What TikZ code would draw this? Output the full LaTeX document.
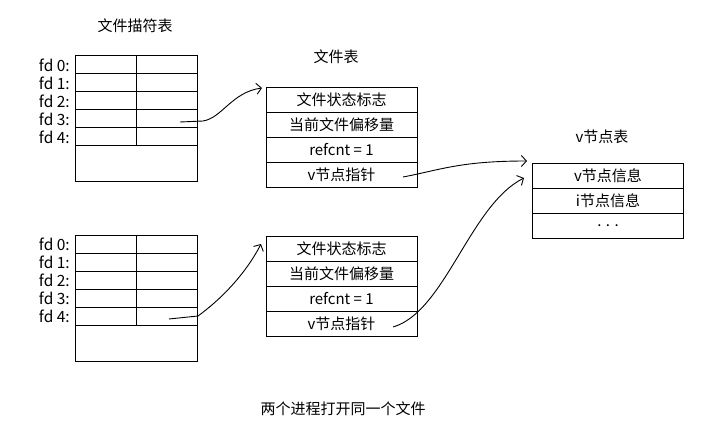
\documentclass[tikz,border=0pt]{standalone}
\usepackage{fontspec}
\setmainfont{Noto Sans CJK SC}
\usetikzlibrary{arrows.meta}
\begin{document}
\begin{tikzpicture}[x=1pt,y=-1pt,
  every node/.style={font=\fontsize{15}{17}\selectfont},
  cell/.style={draw,line width=1pt,inner sep=0pt,outer sep=0pt},
  fdrow/.style={cell,minimum width=122pt,minimum height=18pt},
  ftrow/.style={cell,minimum width=151pt,minimum height=25pt},
  fdlbl/.style={anchor=east,inner sep=0pt,font=\fontsize{15.5}{17}\selectfont},
  ptr/.style={line width=0.9pt,-{Straight Barb[length=5pt,width=11pt]}}]
\useasboundingbox (0,0) rectangle (711,446);
% titles
\node (t1) at (135,26) {文件描符表};
\node (t2) at (336,57) {文件表};
\node (t3) at (602,137) {v节点表};
\node (cap) at (343,409) {两个进程打开同一个文件};
% top fd table
\foreach \i/\y in {0/65,1/83,2/101,3/119,4/137}{
  \node[fdrow] (a\i) at (136,\y) {};
  \node[fdlbl] (la\i) at (70,\y) {fd \i:};
}
\node[cell,minimum width=122pt,minimum height=36pt] (ab) at (136,164) {};
\draw[line width=1pt] (a0.north) -- (a4.south);
% bottom fd table
\foreach \i/\y in {0/244.5,1/262.5,2/280.5,3/298.5,4/316.5}{
  \node[fdrow] (b\i) at (136,\y) {};
  \node[fdlbl] (lb\i) at (70,\y) {fd \i:};
}
\node[cell,minimum width=122pt,minimum height=35.5pt] (bb) at (136,343.25) {};
\draw[line width=1pt] (b0.north) -- (b4.south);
% top file table
\node[ftrow] (f0) at (341.5,100) {文件状态标志};
\node[ftrow] (f1) at (341.5,125) {当前文件偏移量};
\node[ftrow] (f2) at (341.5,150) {refcnt = 1};
\node[ftrow] (f3) at (341.5,175) {v节点指针};
% bottom file table
\node[ftrow] (g0) at (341.5,249) {文件状态标志};
\node[ftrow] (g1) at (341.5,274) {当前文件偏移量};
\node[ftrow] (g2) at (341.5,299) {refcnt = 1};
\node[ftrow] (g3) at (341.5,324) {v节点指针};
% v-node table
\node[ftrow] (v0) at (608,176) {v节点信息};
\node[ftrow] (v1) at (608,201) {i节点信息};
\node[ftrow] (v2) at (608,226) {. . .};
% pointer endpoints
\coordinate (s1) at (180,122);
\coordinate (e1) at (262,88);
\coordinate (s2) at (403,177);
\coordinate (e2) at (527,161);
\coordinate (s3) at (169,319);
\coordinate (e3) at (261,244);
\coordinate (s4) at (393,327);
\coordinate (e4) at (524,178);
\draw[ptr] (s1) -- (203,121) .. controls (222,118) and (232,92) .. (e1);
\draw[ptr] (s2) .. controls (440,170) and (460,161) .. (e2);
\draw[ptr] (s3) -- (198,316) .. controls (220,300) and (245,275) .. (e3);
\draw[ptr] (s4) .. controls (445,312) and (470,205) .. (e4);
\end{tikzpicture}
\end{document}
